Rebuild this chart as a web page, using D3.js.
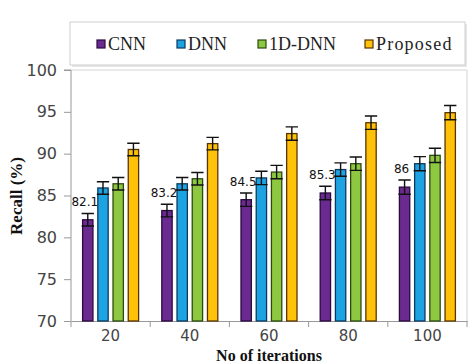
<!DOCTYPE html>
<html><head><meta charset="utf-8">
<script src="https://cdn.jsdelivr.net/npm/d3@7"></script>
<style>body{margin:0;background:#fff}svg{display:block}</style>
</head><body>
<svg id="c" width="474" height="364"></svg>
<script>
const categories = ["20","40","60","80","100"];
const seriesNames = ["CNN","DNN","1D-DNN","Proposed"];
const cnn = [82.1, 83.2, 84.5, 85.3, 86.0];
const dnn = [85.9, 86.4, 87.1, 88.1, 88.8];
const d1dnn = [86.4, 87.0, 87.8, 88.8, 89.8];
const proposed = [90.5, 91.2, 92.4, 93.7, 94.9];
const errors = [0.75, 0.75, 0.8, 0.8, 0.85];
const cnnLabels = ["82.1","83.2","84.5","85.3","86"];
const yTicks = [70,75,80,85,90,95,100];
const fills = ["#6a2a90","#1ea3e2","#8dc840","#ffc20a"];
const strokes = ["#2a0a40","#0b3a60","#2c4a10","#5a3500"];

const series = [cnn, dnn, d1dnn, proposed];
const svg = d3.select("#c");
const L = 71, R = 467, T = 70, B = 321;

const x = d3.scaleBand().domain(categories).range([L, R]);
const xs = d3.scaleBand().domain(seriesNames).range([-28, 28]).paddingInner(0.32);
const y = d3.scaleLinear().domain([70, 100]).range([B, T]);

// plot border (top/right)
svg.append("path").attr("d", `M${L},${T}H${R}V${B}`).attr("fill","none").attr("stroke","#d4d4d4").attr("stroke-width",1);

// Y axis
const ya = svg.append("g").attr("transform", `translate(${L},0)`)
  .call(d3.axisLeft(y).tickValues(yTicks).tickSize(7).tickPadding(7));
ya.select(".domain").attr("stroke","#999").attr("d", `M-7,${T}H0V${B}`);
ya.selectAll(".tick line").attr("stroke","#999");
ya.selectAll("text").attr("font-family","Tahoma, 'DejaVu Sans', sans-serif").attr("font-size",16).attr("fill","#444");

// X axis
const xa = svg.append("g").attr("transform", `translate(0,${B})`)
  .call(d3.axisBottom(x).tickSize(0).tickPadding(9));
xa.select(".domain").attr("stroke","#999");
xa.selectAll("text").attr("font-family","Tahoma, 'DejaVu Sans', sans-serif").attr("font-size",15).attr("fill","#444");
const bounds = categories.map(c => x(c)).concat([R]);
svg.append("g").selectAll("line").data(bounds).join("line")
  .attr("x1", d => d).attr("x2", d => d).attr("y1", B).attr("y2", B + 6)
  .attr("stroke","#999");

// bars
const gGroups = svg.append("g").selectAll("g").data(categories).join("g")
  .attr("transform", c => `translate(${x(c) + x.bandwidth()/2},0)`);
seriesNames.forEach((s, si) => {
  gGroups.append("rect")
    .attr("x", xs(s)).attr("width", xs.bandwidth())
    .attr("y", (c, i) => y(series[si][i]))
    .attr("height", (c, i) => B - y(series[si][i]))
    .attr("fill", fills[si]).attr("stroke", strokes[si]).attr("stroke-width", 1.3);
  // error bars
  const cx = xs(s) + xs.bandwidth()/2, hw = xs.bandwidth()/2 + 1;
  gGroups.append("path")
    .attr("d", (c, i) => {
      const hi = y(series[si][i] + errors[i]), lo = y(series[si][i] - errors[i]);
      return `M${cx},${hi}V${lo}M${cx-hw},${hi}H${cx+hw}M${cx-hw},${lo}H${cx+hw}`;
    })
    .attr("stroke", "#111").attr("stroke-width", 1.4).attr("fill","none");
});
// CNN value labels
gGroups.append("text")
  .attr("x", xs("CNN") + xs.bandwidth()/2 - 3)
  .attr("y", (c, i) => y(cnn[i]) - 14)
  .attr("text-anchor","middle")
  .attr("font-family","Tahoma, 'DejaVu Sans', sans-serif").attr("font-size",12).attr("fill","#111")
  .text((c, i) => cnnLabels[i]);

// axis titles
svg.append("text").attr("transform", "translate(22,196) rotate(-90)")
  .attr("text-anchor","middle").attr("font-family","'Liberation Serif', 'Times New Roman', serif")
  .attr("font-weight","bold").attr("font-size",17).attr("fill","#111").text("Recall (%)");
svg.append("text").attr("x", 269).attr("y", 361)
  .attr("text-anchor","middle").attr("font-family","'Liberation Serif', 'Times New Roman', serif")
  .attr("font-weight","bold").attr("font-size",16).attr("fill","#111").text("No of iterations");

// legend
svg.append("rect").attr("x", 72).attr("y", 24).attr("width", 395).attr("height", 43)
  .attr("fill","#e6e6e6");
svg.append("rect").attr("x", 70).attr("y", 22).attr("width", 395).attr("height", 43)
  .attr("fill","#fff").attr("stroke","#cfcfcf");
const legX = [97, 177, 258, 365];
const lg = svg.append("g").selectAll("g").data(seriesNames).join("g")
  .attr("transform", (d, i) => `translate(${legX[i]},44)`);
lg.append("rect").attr("x", 0).attr("y", -4).attr("width", 8).attr("height", 8)
  .attr("fill", (d, i) => fills[i]).attr("stroke", (d, i) => strokes[i]).attr("stroke-width", 1.2);
lg.append("text").attr("x", 11).attr("y", 6)
  .attr("font-family","'Liberation Serif', 'Times New Roman', serif").attr("font-size",18)
  .attr("fill","#222").attr("letter-spacing", (d, i) => i === 3 ? 1.2 : 0).text(d => d);
</script>
</body></html>
